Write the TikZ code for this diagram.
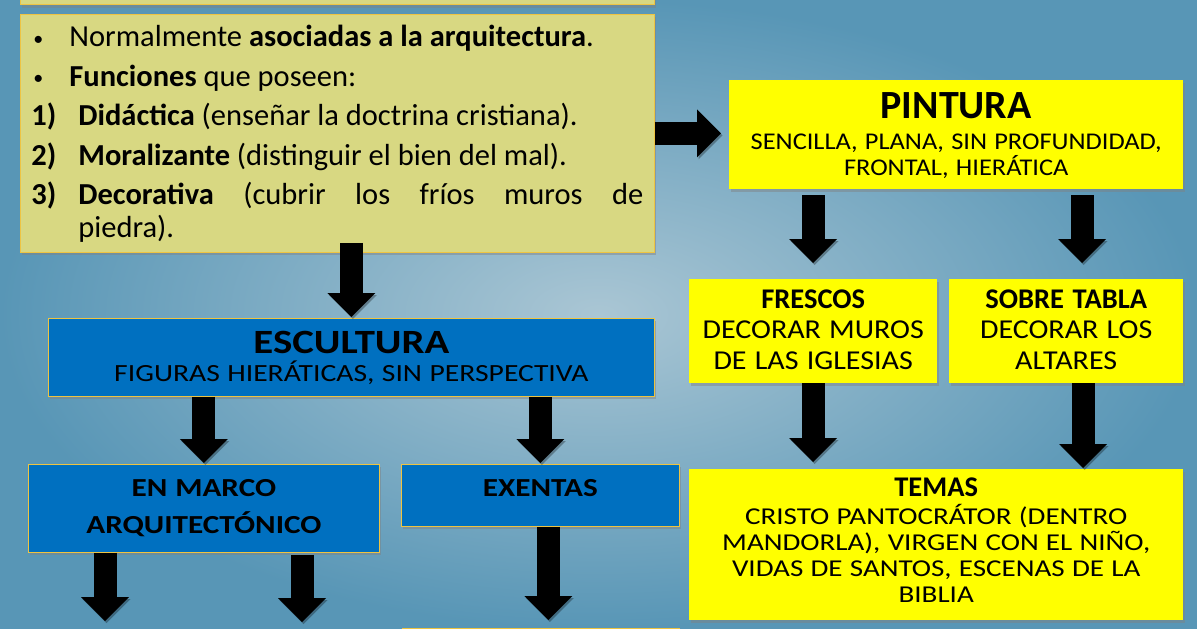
\documentclass[tikz,border=0pt]{standalone}
\usepackage{fontspec}
\setmainfont{Carlito}
\newfontfamily\anchafont[FakeStretch=1.2]{Carlito}
\newfontfamily\mediafont[FakeStretch=1.1]{Carlito}
\usetikzlibrary{arrows.meta,shadows}
\definecolor{fondoclaro}{RGB}{170,198,212}
\definecolor{fondooscuro}{RGB}{88,150,182}
\definecolor{caqui}{RGB}{216,216,130}
\definecolor{dorado}{RGB}{238,196,66}
\definecolor{azul}{RGB}{0,112,192}
\definecolor{amarillo}{RGB}{255,255,0}
% font size, line skip, and wider word spaces for the box labels
\newcommand{\tam}[2]{\fontsize{#1}{#2}\selectfont\spaceskip=.3em\relax}
\newcommand{\vineta}{\makebox[38pt][l]{\hspace{2pt}\raisebox{1.5pt}{\fontsize{20}{20}\selectfont\textbullet}}}

\begin{document}
\begin{tikzpicture}[x=1pt, y=-1pt,
    sombra/.style={drop shadow={shadow xshift=2pt, shadow yshift=-3pt, opacity=0.45}},
    caja/.style={anchor=north west, inner sep=0pt, align=center, sombra},
    cajacaqui/.style={caja, fill=caqui, draw=dorado, line width=0.8pt},
    cajaazul/.style={caja, fill=azul, draw=dorado, line width=0.8pt},
    cajaamarilla/.style={caja, fill=amarillo},
    flecha/.style={line width=23pt, -{Triangle[length=24pt, width=48pt, line width=0pt]},
        preaction={draw=black, opacity=0.3, transform canvas={shift={(1.5pt,-2pt)}}}}]
\useasboundingbox (0,0) rectangle (1197,629);
\clip (0,0) rectangle (1197,629);
\shade[inner color=fondoclaro, outer color=fondooscuro] (0,0) rectangle (1197,629);

% the column on the left: what the sculpture is for
\node[cajacaqui, minimum width=634pt, minimum height=50pt, anchor=south west] (arriba) at (20,5) {};
\node[cajacaqui, text width=612pt, inner xsep=11pt, text height=32.5pt, text depth=205.5pt,
      align=justify, font=\fontsize{30.5}{33}\selectfont] (funciones) at (20,14) {%
    \setlength{\parskip}{6.5pt}%
    \hangindent=38pt\hangafter=1\noindent\vineta Normalmente \textbf{asociadas a la arquitectura}.\par
    \noindent\vineta\textbf{Funciones} que poseen:\par
    \noindent\makebox[47pt][l]{\textbf{1)}}\textbf{Didáctica} (enseñar la doctrina cristiana).\par
    \noindent\makebox[47pt][l]{\textbf{2)}}\textbf{Moralizante} (distinguir el bien del mal).\par
    \hangindent=47pt\hangafter=1\noindent\makebox[47pt][l]{\textbf{3)}}\textbf{Decorativa} (cubrir los fríos muros de\linebreak piedra).\par};

% sculpture branch
\node[cajaazul, text width=606pt, text height=35pt, text depth=43pt] (escultura) at (48,318) {%
    {\anchafont\tam{34}{34}\bfseries ESCULTURA\par}
    {\anchafont\tam{24.7}{28}FIGURAS HIERÁTICAS, SIN PERSPECTIVA\par}};
\node[cajaazul, text width=351pt, text height=32.4pt, text depth=55.6pt] (enmarco) at (28,464) {%
    {\anchafont\bfseries\tam{26}{37}EN MARCO\\ARQUITECTÓNICO\par}};
\node[cajaazul, text width=278pt, text height=32.4pt, text depth=29.6pt] (exentas) at (401,464) {%
    {\anchafont\bfseries\tam{26}{26}EXENTAS\par}};
\node[cajaazul, minimum width=277pt, minimum height=60pt] (inferior) at (402,628) {};

% painting branch
\node[cajaamarilla, text width=454pt, text height=38.6pt, text depth=70.4pt] (pintura) at (729,80) {%
    {\bfseries\tam{40}{40}PINTURA\par}
    {\mediafont\tam{24}{31}SENCILLA, PLANA, SIN PROFUNDIDAD,\par}
    {\mediafont\tam{24}{26}FRONTAL, HIERÁTICA\par}};
\node[cajaamarilla, text width=248pt, text height=29pt, text depth=75pt] (frescos) at (689,279) {%
    {\bfseries\tam{28.5}{28.5}FRESCOS\par}
    {\mediafont\tam{27.3}{30.5}DECORAR MUROS\\DE LAS IGLESIAS\par}};
\node[cajaamarilla, text width=234pt, text height=29pt, text depth=75pt] (sobre) at (949,279) {%
    {\bfseries\tam{28.5}{28.5}SOBRE TABLA\par}
    {\mediafont\tam{27.3}{30.5}DECORAR LOS\\ALTARES\par}};
\node[cajaamarilla, text width=494pt, text height=27pt, text depth=124pt] (temas) at (689,469) {%
    {\bfseries\tam{28.5}{28.5}TEMAS\par}
    \vspace{2.6pt}
    {\anchafont\tam{24.2}{26}CRISTO PANTOCRÁTOR (DENTRO\\MANDORLA), VIRGEN CON EL NIÑO,\\VIDAS DE SANTOS, ESCENAS DE LA\\BIBLIA\par}};

% free ends and shifted ends of the arrows
\coordinate (sobrearriba) at ([xshift=16pt]sobre.north);
\coordinate (sobreabajo) at ([xshift=17pt]sobre.south);
\coordinate (exentasabajo) at ([xshift=8pt]exentas.south);
\coordinate (marcoizq) at (105,621);
\coordinate (marcoder) at (302,622);

\draw[flecha, shorten <=-10pt, shorten >=1pt] (funciones.south -| escultura.north) -- (escultura.north);
\draw[flecha, shorten >=8pt] (funciones.east) -- (funciones.east -| pintura.west);
\draw[flecha, shorten <=6pt, shorten >=16pt] (pintura.south -| frescos.north) -- (frescos.north);
\draw[flecha, shorten <=6pt, shorten >=16pt] (pintura.south -| sobrearriba) -- (sobrearriba);
\draw[flecha, shorten >=7pt] (frescos.south) -- (frescos.south |- temas.north);
\draw[flecha, shorten >=1pt] (sobreabajo) -- (sobreabajo |- temas.north);
\draw[flecha, shorten >=1pt] (escultura.south -| enmarco.north) -- (enmarco.north);
\draw[flecha, shorten >=1pt] (escultura.south -| exentas.north) -- (exentas.north);
\draw[flecha] (enmarco.south -| marcoizq) -- (marcoizq);
\draw[flecha, shorten <=2pt] (enmarco.south -| marcoder) -- (marcoder);
\draw[flecha, shorten >=8pt] (exentasabajo) -- (exentasabajo |- inferior.north);
\end{tikzpicture}
\end{document}
